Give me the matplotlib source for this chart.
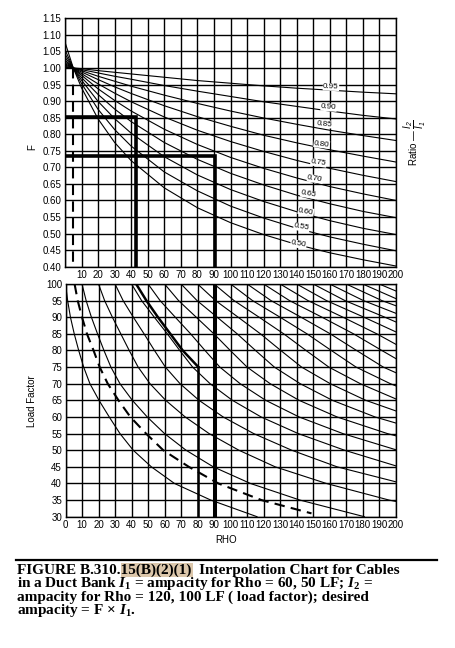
import matplotlib
matplotlib.use("Agg")
import matplotlib.pyplot as plt
from matplotlib.lines import Line2D
from matplotlib.patches import Rectangle

plt.rcParams['font.family'] = ['Liberation Sans', 'DejaVu Sans']
plt.rcParams['mathtext.fontset'] = 'custom'
plt.rcParams['mathtext.it'] = 'Liberation Serif:bold:italic'
plt.rcParams['mathtext.rm'] = 'Liberation Serif:bold'
plt.rcParams['mathtext.bf'] = 'Liberation Serif:bold'
plt.rcParams['mathtext.sf'] = 'Liberation Sans:italic'

# ---- top chart: F vs RHO for each ratio I2/I1 ----
rho_top = [0, 5, 10, 20, 30, 40, 60, 80, 100, 120, 140, 160, 180, 200]
ratios = ['0.95', '0.90', '0.85', '0.80', '0.75', '0.70', '0.65', '0.60', '0.55', '0.50']
f_curves = [
    [1.002, 1.0, 0.998, 0.992, 0.987, 0.982, 0.972, 0.962, 0.954, 0.946, 0.939, 0.933, 0.927, 0.922],
    [1.005, 1.0, 0.995, 0.985, 0.975, 0.966, 0.947, 0.930, 0.914, 0.898, 0.884, 0.870, 0.857, 0.846],
    [1.009, 1.0, 0.992, 0.975, 0.960, 0.945, 0.918, 0.893, 0.870, 0.849, 0.830, 0.812, 0.796, 0.781],
    [1.013, 1.0, 0.988, 0.965, 0.943, 0.923, 0.886, 0.853, 0.824, 0.797, 0.774, 0.753, 0.734, 0.716],
    [1.018, 1.0, 0.983, 0.952, 0.924, 0.898, 0.852, 0.812, 0.778, 0.748, 0.721, 0.697, 0.676, 0.657],
    [1.024, 1.0, 0.978, 0.937, 0.902, 0.870, 0.815, 0.769, 0.730, 0.697, 0.668, 0.642, 0.620, 0.600],
    [1.032, 1.0, 0.971, 0.920, 0.876, 0.838, 0.775, 0.724, 0.682, 0.647, 0.616, 0.590, 0.567, 0.548],
    [1.042, 1.0, 0.963, 0.899, 0.847, 0.803, 0.732, 0.677, 0.633, 0.597, 0.566, 0.539, 0.516, 0.497],
    [1.055, 1.0, 0.953, 0.875, 0.814, 0.764, 0.686, 0.629, 0.583, 0.547, 0.516, 0.490, 0.468, 0.448],
    [1.078, 1.0, 0.940, 0.846, 0.775, 0.720, 0.638, 0.578, 0.533, 0.497, 0.467, 0.442, 0.421, 0.402],
]
label_rho = [160.7, 159.3, 157.1, 155.1, 153.2, 151.1, 147.2, 145.6, 143.0, 141.1]
label_f = [0.943, 0.881, 0.831, 0.770, 0.714, 0.665, 0.619, 0.567, 0.519, 0.468]
label_rot = [-2, -4, -6, -7, -8, -9, -10, -10, -10, -10]

# example construction lines in the top chart
path1_rho = [0, 43, 43]
path1_f = [0.851, 0.851, 0.40]
path2_rho = [0, 90.5, 90.5]
path2_f = [0.735, 0.735, 0.40]
dash_top_rho = [5, 5]
dash_top_f = [1.0, 0.415]

# ---- bottom chart: load factor vs RHO ----
lf_levels = [100, 95, 90, 85, 80, 75, 70, 65, 60, 55, 50, 45, 40, 35, 30]
rho_curves = [
    [0, 1.3, 3.0, 5.3, 8.0, 11.0, 14.8, 20.3, 26.5, 33, 41, 52, 66, 88, 116],
    [10, 12.5, 15.7, 19.4, 23.3, 27.5, 33, 40.5, 49.5, 60, 73, 89.5, 112, 142, 181],
    [20, 23.7, 28.4, 33.5, 38.6, 44, 51.2, 60.7, 72.5, 87, 105, 127, 158, 196, 246],
    [30, 34.9, 41.1, 47.6, 53.9, 60.5, 69.4, 80.9, 95.5, 114, 137, 164.5, 204],
    [40, 46.1, 53.8, 61.7, 69.2, 77, 87.6, 101.1, 118.5, 141, 169, 202],
    [50, 57.3, 66.5, 75.8, 84.5, 93.5, 105.8, 121.3, 141.5, 168, 201],
    [60, 68.5, 79.2, 89.9, 99.8, 110, 124, 141.5, 164.5, 195, 233],
    [70, 79.7, 91.9, 104, 115.1, 126.5, 142.2, 161.7, 187.5, 222],
    [80, 90.9, 104.6, 118.1, 130.4, 143, 160.4, 181.9, 210.5],
    [90, 102.1, 117.3, 132.2, 145.7, 159.5, 178.6, 202.1],
    [100, 113.3, 130, 146.3, 161, 176, 196.8, 222.3],
    [110, 124.5, 142.7, 160.4, 176.3, 192.5, 215],
    [120, 135.7, 155.4, 174.5, 191.6, 209],
    [130, 146.9, 168.1, 188.6, 206.9],
    [140, 158.1, 180.8, 202.7],
    [150, 169.3, 193.5, 216.8],
    [160, 180.5, 206.2],
    [170, 191.7, 218.9],
    [180, 202.9],
    [190, 214.1],
]
dash_lf = [100, 95, 90, 85, 80, 75, 70, 65, 60, 55, 50, 45, 40, 35, 31]
dash_rho = [5.5, 7.4, 10.0, 13.0, 17.0, 20.7, 25.6, 32.1, 39.3, 48.8, 59.2, 74.7, 92.6, 118.7, 149]
bold_rho = [42.8, 49, 56, 63.5, 71, 80.5]
bold_lf = [100, 95, 90, 85, 80, 75]
vert1_rho = [80.5, 80.5]
vert1_lf = [75, 30]
vert2_rho = [90.5, 90.5]
vert2_lf = [100, 30]

caption_lines = [
    'FIGURE B.310.15(B)(2)(1)  Interpolation Chart for Cables',
    r'in a Duct Bank $I_1$ = ampacity for Rho = 60, 50 LF; $I_2$ =',
    'ampacity for Rho = 120, 100 LF ( load factor); desired',
    r'ampacity = F × $I_1$.',
]

W, H = 455, 648
fig = plt.figure(figsize=(W / 100, H / 100), dpi=100)
fig.patch.set_facecolor('white')

ax1 = fig.add_axes([65 / W, 1 - 266.7 / H, 331 / W, 248.4 / H])
ax2 = fig.add_axes([65.5 / W, 1 - 516.7 / H, 330.2 / W, 232.7 / H])

for ax in (ax1, ax2):
    ax.set_xlim(0, 200)
    ax.set_xticks(range(0, 201, 10))
    ax.grid(True, color='black', lw=1.0)
    ax.set_axisbelow(True)
    ax.tick_params(length=0, labelsize=7, pad=2.5)
    for s in ax.spines.values():
        s.set_linewidth(1.0)

# top chart
ax1.set_ylim(0.40, 1.15)
yt = [0.40 + 0.05 * i for i in range(16)]
ax1.set_yticks(yt)
ax1.set_yticklabels(['%.2f' % v for v in yt])
ax1.set_xticklabels([''] + [str(v) for v in range(10, 201, 10)])
for fc in f_curves:
    ax1.plot(rho_top, fc, color='black', lw=0.8, zorder=3)
for r, x, y, rot in zip(ratios, label_rho, label_f, label_rot):
    ax1.text(x, y, r, fontsize=5.8, ha='center', va='center', rotation=rot, zorder=4,
             bbox=dict(facecolor='white', edgecolor='none', pad=0.3))
ax1.plot(path1_rho, path1_f, color='black', lw=2.6, solid_joinstyle='miter', zorder=5)
ax1.plot(path2_rho, path2_f, color='black', lw=2.6, solid_joinstyle='miter', zorder=5)
ax1.plot(dash_top_rho, dash_top_f, color='black', lw=1.5, ls=(0, (5, 3)), zorder=5)

# bottom chart
ax2.set_ylim(30, 100)
ax2.set_yticks(range(30, 101, 5))
for rc in rho_curves:
    ax2.plot(rc, lf_levels[:len(rc)], color='black', lw=0.8, zorder=3)
ax2.plot(dash_rho, dash_lf, color='black', lw=1.5, ls=(0, (5, 3)), zorder=4)
ax2.plot(bold_rho, bold_lf, color='black', lw=1.8, zorder=5)
ax2.plot(vert1_rho, vert1_lf, color='black', lw=1.8, zorder=5)
ax2.plot(vert2_rho, vert2_lf, color='black', lw=2.9, zorder=5)

# axis titles
fig.text(32 / W, 1 - 147 / H, 'F', rotation=90, fontsize=7, ha='center', va='center')
fig.text(32 / W, 1 - 401 / H, 'Load Factor', rotation=90, fontsize=7, ha='center', va='center')
fig.text(226 / W, 1 - 540 / H, 'RHO', fontsize=7, ha='center', va='center')
fig.text(415 / W, 1 - 143 / H, r'Ratio — $\dfrac{\mathsf{I_2}}{\mathsf{I_1}}$', rotation=90,
         fontsize=7, ha='center', va='center')

# caption
fig.add_artist(Line2D([16 / W, 437 / W], [1 - 560 / H, 1 - 560 / H], color='black', lw=1.6))
cap = dict(family='Liberation Serif', weight='bold', fontsize=11)
x0 = 17 / W
renderer = fig.canvas.get_renderer()

# shaded box behind "15(B)(2)(1)"
ta = fig.text(x0, 0.5, 'FIGURE B.310.', va='baseline', **cap)
tb = fig.text(x0, 0.5, 'FIGURE B.310.15(B)(2)(1)', va='baseline', **cap)
xa = ta.get_window_extent(renderer).x1
xb = tb.get_window_extent(renderer).x1
ta.remove()
tb.remove()
fig.add_artist(Rectangle((xa / W, 1 - 577 / H), (xb - xa + 2) / W, 14 / H,
                         transform=fig.transFigure, facecolor='#dcc7ab', edgecolor='none', zorder=0))

# multi-line text with va='baseline' sits on the baseline of its last line
fig.text(x0, 1 - 614 / H, '\n'.join(caption_lines), va='baseline', linespacing=0.85, **cap)

fig.savefig('out.png', dpi=100)
